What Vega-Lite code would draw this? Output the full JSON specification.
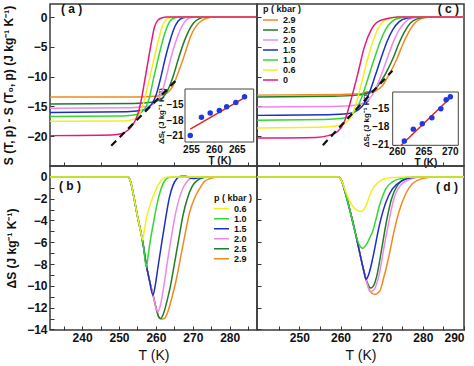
{
"$schema":"https://vega.github.io/schema/vega-lite/v6.json",
"padding":{"left":1,"top":2,"right":0,"bottom":0},
"background":"white",
"config":{
 "font":"Liberation Sans",
 "view":{"stroke":"#3a3a3a","strokeWidth":1.5},
 "axis":{"grid":false,"domain":false,"labelFont":"Liberation Sans","labelFontWeight":"bold","labelFontSize":12,"labelColor":"#111","titleFont":"Liberation Sans","titleColor":"#111","titleFontWeight":"bold","tickColor":"#333","tickSize":-4,"labelPadding":7},
 "legend":{"titleFontSize":9,"titleFontWeight":"bold","labelFontSize":9,"labelFontWeight":"bold","titleColor":"#111","labelColor":"#111","symbolStrokeWidth":1.5,"rowPadding":0,"titlePadding":1,"padding":0},
 "title":{"font":"Liberation Sans","fontSize":12,"fontWeight":"bold","color":"#111"}
},
"datasets":{
 "a":[
  {"p":"2.9","T":231.3,"v":-13.4},{"p":"2.9","T":255,"v":-13.4},{"p":"2.9","T":260,"v":-13.3},{"p":"2.9","T":262,"v":-13.0},{"p":"2.9","T":263.5,"v":-12.5},{"p":"2.9","T":264.6,"v":-11.6},{"p":"2.9","T":266,"v":-9.4},{"p":"2.9","T":267.4,"v":-7},{"p":"2.9","T":268.5,"v":-4.9},{"p":"2.9","T":269.5,"v":-3.1},{"p":"2.9","T":270.8,"v":-1.6},{"p":"2.9","T":272.2,"v":-0.7},{"p":"2.9","T":273.8,"v":-0.2},{"p":"2.9","T":276,"v":0},{"p":"2.9","T":287.4,"v":0},
  {"p":"2.5","T":231.3,"v":-14.6},{"p":"2.5","T":254,"v":-14.5},{"p":"2.5","T":259,"v":-14.3},{"p":"2.5","T":261,"v":-13.9},{"p":"2.5","T":262.4,"v":-13.1},{"p":"2.5","T":263.7,"v":-11.6},{"p":"2.5","T":264.9,"v":-9.5},{"p":"2.5","T":266.1,"v":-7},{"p":"2.5","T":267.6,"v":-4.2},{"p":"2.5","T":268.9,"v":-2.3},{"p":"2.5","T":270.2,"v":-1.0},{"p":"2.5","T":271.6,"v":-0.3},{"p":"2.5","T":273.5,"v":0},{"p":"2.5","T":287.4,"v":0},
  {"p":"2.0","T":231.3,"v":-15.3},{"p":"2.0","T":253,"v":-15.2},{"p":"2.0","T":257.5,"v":-15.0},{"p":"2.0","T":259.3,"v":-14.6},{"p":"2.0","T":260.6,"v":-13.8},{"p":"2.0","T":261.8,"v":-12.3},{"p":"2.0","T":262.9,"v":-9.8},{"p":"2.0","T":264,"v":-7},{"p":"2.0","T":265.5,"v":-3.9},{"p":"2.0","T":266.7,"v":-2.0},{"p":"2.0","T":267.8,"v":-0.8},{"p":"2.0","T":269,"v":-0.2},{"p":"2.0","T":271,"v":0},{"p":"2.0","T":287.4,"v":0},
  {"p":"1.5","T":231.3,"v":-16.0},{"p":"1.5","T":252,"v":-15.9},{"p":"1.5","T":256,"v":-15.7},{"p":"1.5","T":257.8,"v":-15.3},{"p":"1.5","T":259,"v":-14.5},{"p":"1.5","T":260.1,"v":-13.0},{"p":"1.5","T":261.3,"v":-10.2},{"p":"1.5","T":262.5,"v":-7},{"p":"1.5","T":263.9,"v":-3.8},{"p":"1.5","T":265,"v":-1.8},{"p":"1.5","T":266,"v":-0.7},{"p":"1.5","T":267.2,"v":-0.15},{"p":"1.5","T":269,"v":0},{"p":"1.5","T":287.4,"v":0},
  {"p":"1.0","T":231.3,"v":-16.7},{"p":"1.0","T":251,"v":-16.6},{"p":"1.0","T":254.5,"v":-16.4},{"p":"1.0","T":256,"v":-16.0},{"p":"1.0","T":257.2,"v":-15.2},{"p":"1.0","T":258.2,"v":-13.6},{"p":"1.0","T":259.4,"v":-10.2},{"p":"1.0","T":260.6,"v":-7},{"p":"1.0","T":262,"v":-3.6},{"p":"1.0","T":263,"v":-1.7},{"p":"1.0","T":263.9,"v":-0.6},{"p":"1.0","T":265,"v":-0.15},{"p":"1.0","T":266.5,"v":0},{"p":"1.0","T":287.4,"v":0},
  {"p":"0.6","T":231.3,"v":-17.5},{"p":"0.6","T":250,"v":-17.45},{"p":"0.6","T":253,"v":-17.3},{"p":"0.6","T":254.5,"v":-17.0},{"p":"0.6","T":255.5,"v":-16.3},{"p":"0.6","T":256.5,"v":-14.8},{"p":"0.6","T":258,"v":-11},{"p":"0.6","T":259.5,"v":-7},{"p":"0.6","T":260.8,"v":-3.6},{"p":"0.6","T":261.7,"v":-1.6},{"p":"0.6","T":262.5,"v":-0.6},{"p":"0.6","T":263.5,"v":-0.15},{"p":"0.6","T":265,"v":0},{"p":"0.6","T":287.4,"v":0},
  {"p":"0","T":231.3,"v":-19.9},{"p":"0","T":248,"v":-19.8},{"p":"0","T":250.6,"v":-19.6},{"p":"0","T":252.4,"v":-19.0},{"p":"0","T":253.3,"v":-18.4},{"p":"0","T":254.2,"v":-17.6},{"p":"0","T":255.1,"v":-16.3},{"p":"0","T":256.0,"v":-14.0},{"p":"0","T":257.3,"v":-9.5},{"p":"0","T":258.7,"v":-4.5},{"p":"0","T":259.6,"v":-1.7},{"p":"0","T":260.5,"v":-0.55},{"p":"0","T":261.5,"v":-0.15},{"p":"0","T":263,"v":0},{"p":"0","T":287.4,"v":0}
 ],
 "c":[
  {"p":"2.9","T":239.7,"v":-13.1},{"p":"2.9","T":260,"v":-13.0},{"p":"2.9","T":266,"v":-12.8},{"p":"2.9","T":268.5,"v":-12.4},{"p":"2.9","T":270.2,"v":-11.5},{"p":"2.9","T":271.5,"v":-10.0},{"p":"2.9","T":272.6,"v":-8.6},{"p":"2.9","T":273.7,"v":-7},{"p":"2.9","T":275.1,"v":-4.6},{"p":"2.9","T":276.5,"v":-2.6},{"p":"2.9","T":277.9,"v":-1.1},{"p":"2.9","T":279.5,"v":-0.3},{"p":"2.9","T":282,"v":0},{"p":"2.9","T":290,"v":0},
  {"p":"2.5","T":239.7,"v":-13.4},{"p":"2.5","T":258,"v":-13.3},{"p":"2.5","T":264,"v":-13.1},{"p":"2.5","T":266.8,"v":-12.7},{"p":"2.5","T":268.5,"v":-12.0},{"p":"2.5","T":270,"v":-10.6},{"p":"2.5","T":271.4,"v":-8.9},{"p":"2.5","T":272.7,"v":-7},{"p":"2.5","T":274.2,"v":-4.4},{"p":"2.5","T":275.6,"v":-2.4},{"p":"2.5","T":277,"v":-1.0},{"p":"2.5","T":278.6,"v":-0.3},{"p":"2.5","T":281,"v":0},{"p":"2.5","T":290,"v":0},
  {"p":"2.0","T":239.7,"v":-15.1},{"p":"2.0","T":258,"v":-15.0},{"p":"2.0","T":263.5,"v":-14.8},{"p":"2.0","T":266,"v":-14.3},{"p":"2.0","T":267.5,"v":-13.3},{"p":"2.0","T":268.8,"v":-11.6},{"p":"2.0","T":270,"v":-9.5},{"p":"2.0","T":271.3,"v":-7},{"p":"2.0","T":272.8,"v":-4.2},{"p":"2.0","T":274.2,"v":-2.2},{"p":"2.0","T":275.6,"v":-0.9},{"p":"2.0","T":277.3,"v":-0.2},{"p":"2.0","T":280,"v":0},{"p":"2.0","T":290,"v":0},
  {"p":"1.5","T":239.7,"v":-16.5},{"p":"1.5","T":257,"v":-16.4},{"p":"1.5","T":262,"v":-16.2},{"p":"1.5","T":264.3,"v":-15.6},{"p":"1.5","T":265.8,"v":-14.5},{"p":"1.5","T":267.1,"v":-12.5},{"p":"1.5","T":268.4,"v":-9.9},{"p":"1.5","T":269.8,"v":-7},{"p":"1.5","T":271.3,"v":-4.1},{"p":"1.5","T":272.7,"v":-2.1},{"p":"1.5","T":274.2,"v":-0.8},{"p":"1.5","T":276,"v":-0.2},{"p":"1.5","T":279,"v":0},{"p":"1.5","T":290,"v":0},
  {"p":"1.0","T":239.7,"v":-17.3},{"p":"1.0","T":256,"v":-17.2},{"p":"1.0","T":260.5,"v":-17.0},{"p":"1.0","T":262.5,"v":-16.5},{"p":"1.0","T":264,"v":-15.3},{"p":"1.0","T":265.4,"v":-13.0},{"p":"1.0","T":266.8,"v":-10.0},{"p":"1.0","T":268.2,"v":-7},{"p":"1.0","T":269.7,"v":-4.0},{"p":"1.0","T":271,"v":-2.0},{"p":"1.0","T":272.4,"v":-0.8},{"p":"1.0","T":274,"v":-0.2},{"p":"1.0","T":277,"v":0},{"p":"1.0","T":290,"v":0},
  {"p":"0.6","T":239.7,"v":-18.6},{"p":"0.6","T":255,"v":-18.5},{"p":"0.6","T":259,"v":-18.3},{"p":"0.6","T":261,"v":-17.9},{"p":"0.6","T":262.5,"v":-16.8},{"p":"0.6","T":263.8,"v":-14.5},{"p":"0.6","T":265.2,"v":-10.8},{"p":"0.6","T":266.6,"v":-7},{"p":"0.6","T":268,"v":-3.8},{"p":"0.6","T":269.2,"v":-1.8},{"p":"0.6","T":270.5,"v":-0.7},{"p":"0.6","T":272.2,"v":-0.2},{"p":"0.6","T":275,"v":0},{"p":"0.6","T":290,"v":0},
  {"p":"0","T":239.7,"v":-20.3},{"p":"0","T":254,"v":-20.2},{"p":"0","T":257,"v":-19.9},{"p":"0","T":259.3,"v":-19.2},{"p":"0","T":260.9,"v":-17.6},{"p":"0","T":262.5,"v":-14.0},{"p":"0","T":264.2,"v":-9.5},{"p":"0","T":265.8,"v":-5.0},{"p":"0","T":267.4,"v":-2.2},{"p":"0","T":269,"v":-0.8},{"p":"0","T":271.4,"v":-0.25},{"p":"0","T":274,"v":0},{"p":"0","T":290,"v":0}
 ],
 "b":[
  {"p":"2.9","T":231.3,"v":0},{"p":"2.9","T":252.5,"v":0},{"p":"2.9","T":253.2,"v":-0.5},{"p":"2.9","T":254,"v":-1.8},{"p":"2.9","T":255,"v":-3.6},{"p":"2.9","T":256,"v":-5.2},{"p":"2.9","T":256.6,"v":-6.3},{"p":"2.9","T":257.3,"v":-7.9},{"p":"2.9","T":258.2,"v":-9.4},{"p":"2.9","T":259.2,"v":-10.8},{"p":"2.9","T":260.1,"v":-12.1},{"p":"2.9","T":260.7,"v":-12.8},{"p":"2.9","T":261.4,"v":-13.05},{"p":"2.9","T":262.3,"v":-13.0},{"p":"2.9","T":263.3,"v":-12.3},{"p":"2.9","T":264.4,"v":-11.0},{"p":"2.9","T":265.6,"v":-9.3},{"p":"2.9","T":266.8,"v":-7.2},{"p":"2.9","T":268,"v":-5.1},{"p":"2.9","T":269.1,"v":-3.3},{"p":"2.9","T":270.4,"v":-2.0},{"p":"2.9","T":271.8,"v":-1.1},{"p":"2.9","T":273.1,"v":-0.45},{"p":"2.9","T":274.7,"v":-0.15},{"p":"2.9","T":277,"v":0},{"p":"2.9","T":287.4,"v":0},
  {"p":"2.5","T":231.3,"v":0},{"p":"2.5","T":252.5,"v":0},{"p":"2.5","T":253.2,"v":-0.5},{"p":"2.5","T":254,"v":-1.8},{"p":"2.5","T":255,"v":-3.6},{"p":"2.5","T":256,"v":-5.2},{"p":"2.5","T":256.6,"v":-6.3},{"p":"2.5","T":257.3,"v":-7.9},{"p":"2.5","T":258.2,"v":-9.4},{"p":"2.5","T":259.2,"v":-10.8},{"p":"2.5","T":260.1,"v":-12.1},{"p":"2.5","T":260.7,"v":-12.8},{"p":"2.5","T":261.3,"v":-13.0},{"p":"2.5","T":262,"v":-12.6},{"p":"2.5","T":263,"v":-11.4},{"p":"2.5","T":264,"v":-9.9},{"p":"2.5","T":265,"v":-8.0},{"p":"2.5","T":266.2,"v":-5.7},{"p":"2.5","T":267.3,"v":-3.6},{"p":"2.5","T":268.5,"v":-2.0},{"p":"2.5","T":269.8,"v":-0.9},{"p":"2.5","T":271.3,"v":-0.3},{"p":"2.5","T":273,"v":-0.05},{"p":"2.5","T":275,"v":0},{"p":"2.5","T":287.4,"v":0},
  {"p":"2.0","T":231.3,"v":0},{"p":"2.0","T":252.5,"v":0},{"p":"2.0","T":253.2,"v":-0.5},{"p":"2.0","T":254,"v":-1.8},{"p":"2.0","T":255,"v":-3.6},{"p":"2.0","T":256,"v":-5.2},{"p":"2.0","T":256.6,"v":-6.3},{"p":"2.0","T":257.3,"v":-7.9},{"p":"2.0","T":258.2,"v":-9.4},{"p":"2.0","T":259.2,"v":-10.8},{"p":"2.0","T":260.1,"v":-12.1},{"p":"2.0","T":260.5,"v":-12.4},{"p":"2.0","T":261.2,"v":-11.8},{"p":"2.0","T":262.2,"v":-9.9},{"p":"2.0","T":263.2,"v":-7.6},{"p":"2.0","T":264.3,"v":-5.3},{"p":"2.0","T":265.3,"v":-3.4},{"p":"2.0","T":266.4,"v":-1.9},{"p":"2.0","T":267.5,"v":-0.9},{"p":"2.0","T":268.6,"v":-0.35},{"p":"2.0","T":270,"v":-0.05},{"p":"2.0","T":272,"v":0},{"p":"2.0","T":287.4,"v":0},
  {"p":"1.5","T":231.3,"v":0},{"p":"1.5","T":252.5,"v":0},{"p":"1.5","T":253.2,"v":-0.5},{"p":"1.5","T":254,"v":-1.8},{"p":"1.5","T":255,"v":-3.6},{"p":"1.5","T":256,"v":-5.2},{"p":"1.5","T":256.6,"v":-6.3},{"p":"1.5","T":257.3,"v":-7.9},{"p":"1.5","T":258.2,"v":-9.4},{"p":"1.5","T":259.2,"v":-10.85},{"p":"1.5","T":259.8,"v":-10.0},{"p":"1.5","T":260.6,"v":-8.2},{"p":"1.5","T":261.6,"v":-6.0},{"p":"1.5","T":262.6,"v":-3.9},{"p":"1.5","T":263.6,"v":-2.0},{"p":"1.5","T":264.6,"v":-0.8},{"p":"1.5","T":265.6,"v":-0.2},{"p":"1.5","T":266.8,"v":0.05},{"p":"1.5","T":268,"v":0.05},{"p":"1.5","T":270,"v":-0.15},{"p":"1.5","T":272,"v":-0.05},{"p":"1.5","T":274,"v":0},{"p":"1.5","T":287.4,"v":0},
  {"p":"1.0","T":231.3,"v":0},{"p":"1.0","T":252.5,"v":0},{"p":"1.0","T":253.2,"v":-0.5},{"p":"1.0","T":254,"v":-1.8},{"p":"1.0","T":255,"v":-3.6},{"p":"1.0","T":256,"v":-5.2},{"p":"1.0","T":256.6,"v":-6.3},{"p":"1.0","T":257.4,"v":-8.3},{"p":"1.0","T":257.9,"v":-7.2},{"p":"1.0","T":258.5,"v":-5.8},{"p":"1.0","T":259.3,"v":-4.3},{"p":"1.0","T":260.3,"v":-2.5},{"p":"1.0","T":261.3,"v":-1.2},{"p":"1.0","T":262.3,"v":-0.4},{"p":"1.0","T":263.5,"v":-0.05},{"p":"1.0","T":265,"v":0},{"p":"1.0","T":287.4,"v":0},
  {"p":"0.6","T":231.3,"v":0},{"p":"0.6","T":252.5,"v":0},{"p":"0.6","T":253.2,"v":-0.5},{"p":"0.6","T":254,"v":-1.8},{"p":"0.6","T":255,"v":-3.6},{"p":"0.6","T":256,"v":-5.2},{"p":"0.6","T":256.4,"v":-5.8},{"p":"0.6","T":256.9,"v":-4.8},{"p":"0.6","T":257.5,"v":-3.7},{"p":"0.6","T":258.5,"v":-2.5},{"p":"0.6","T":259.5,"v":-1.6},{"p":"0.6","T":260.5,"v":-0.8},{"p":"0.6","T":261.5,"v":-0.3},{"p":"0.6","T":263,"v":0},{"p":"0.6","T":287.4,"v":0}
 ],
 "d":[
  {"p":"2.9","T":239.7,"v":0},{"p":"2.9","T":259.6,"v":0},{"p":"2.9","T":260.3,"v":-0.4},{"p":"2.9","T":261.2,"v":-1.5},{"p":"2.9","T":262.5,"v":-3.4},{"p":"2.9","T":263.7,"v":-5.3},{"p":"2.9","T":264.8,"v":-7.2},{"p":"2.9","T":265.7,"v":-8.7},{"p":"2.9","T":266.4,"v":-9.7},{"p":"2.9","T":267.2,"v":-10.5},{"p":"2.9","T":268.3,"v":-10.8},{"p":"2.9","T":269.5,"v":-10.5},{"p":"2.9","T":270.6,"v":-9.1},{"p":"2.9","T":271.8,"v":-7.2},{"p":"2.9","T":273,"v":-5.0},{"p":"2.9","T":274.2,"v":-3.2},{"p":"2.9","T":275.9,"v":-1.5},{"p":"2.9","T":277.5,"v":-0.6},{"p":"2.9","T":279.9,"v":-0.15},{"p":"2.9","T":282.5,"v":0},{"p":"2.9","T":290,"v":0},
  {"p":"2.5","T":239.7,"v":0},{"p":"2.5","T":259.6,"v":0},{"p":"2.5","T":260.3,"v":-0.4},{"p":"2.5","T":261.2,"v":-1.5},{"p":"2.5","T":262.5,"v":-3.4},{"p":"2.5","T":263.7,"v":-5.3},{"p":"2.5","T":264.8,"v":-7.2},{"p":"2.5","T":265.7,"v":-8.7},{"p":"2.5","T":266.5,"v":-9.7},{"p":"2.5","T":267.3,"v":-10.2},{"p":"2.5","T":268,"v":-10.0},{"p":"2.5","T":268.8,"v":-9.1},{"p":"2.5","T":270,"v":-6.6},{"p":"2.5","T":271.2,"v":-4.0},{"p":"2.5","T":272.4,"v":-2.0},{"p":"2.5","T":273.8,"v":-0.8},{"p":"2.5","T":276,"v":-0.15},{"p":"2.5","T":278.5,"v":0},{"p":"2.5","T":290,"v":0},
  {"p":"2.0","T":239.7,"v":0},{"p":"2.0","T":259.6,"v":0},{"p":"2.0","T":260.3,"v":-0.4},{"p":"2.0","T":261.2,"v":-1.5},{"p":"2.0","T":262.5,"v":-3.4},{"p":"2.0","T":263.7,"v":-5.3},{"p":"2.0","T":264.8,"v":-7.2},{"p":"2.0","T":265.7,"v":-8.7},{"p":"2.0","T":266.4,"v":-9.7},{"p":"2.0","T":267.2,"v":-10.55},{"p":"2.0","T":268,"v":-10.4},{"p":"2.0","T":269.3,"v":-9.1},{"p":"2.0","T":270.5,"v":-6.6},{"p":"2.0","T":271.7,"v":-4.2},{"p":"2.0","T":272.9,"v":-2.1},{"p":"2.0","T":274.5,"v":-0.8},{"p":"2.0","T":277,"v":-0.2},{"p":"2.0","T":279.5,"v":0},{"p":"2.0","T":290,"v":0},
  {"p":"1.5","T":239.7,"v":0},{"p":"1.5","T":259.6,"v":0},{"p":"1.5","T":260.3,"v":-0.4},{"p":"1.5","T":261.2,"v":-1.5},{"p":"1.5","T":262.5,"v":-3.4},{"p":"1.5","T":263.7,"v":-5.3},{"p":"1.5","T":264.8,"v":-7.2},{"p":"1.5","T":265.7,"v":-8.7},{"p":"1.5","T":266.2,"v":-9.4},{"p":"1.5","T":266.8,"v":-9.0},{"p":"1.5","T":267.8,"v":-7.5},{"p":"1.5","T":268.6,"v":-6.0},{"p":"1.5","T":269.4,"v":-4.5},{"p":"1.5","T":270.2,"v":-3.3},{"p":"1.5","T":271,"v":-2.35},{"p":"1.5","T":272.6,"v":-1.1},{"p":"1.5","T":275,"v":-0.35},{"p":"1.5","T":277.4,"v":-0.05},{"p":"1.5","T":280,"v":0},{"p":"1.5","T":290,"v":0},
  {"p":"1.0","T":239.7,"v":0},{"p":"1.0","T":259.6,"v":0},{"p":"1.0","T":260.3,"v":-0.4},{"p":"1.0","T":261.2,"v":-1.5},{"p":"1.0","T":262.5,"v":-3.4},{"p":"1.0","T":263.7,"v":-5.3},{"p":"1.0","T":264.5,"v":-6.2},{"p":"1.0","T":265.4,"v":-6.55},{"p":"1.0","T":266.3,"v":-6.2},{"p":"1.0","T":267.2,"v":-5.5},{"p":"1.0","T":267.8,"v":-5.0},{"p":"1.0","T":268.6,"v":-3.9},{"p":"1.0","T":269.4,"v":-2.7},{"p":"1.0","T":270.2,"v":-1.8},{"p":"1.0","T":271,"v":-1.1},{"p":"1.0","T":272.6,"v":-0.45},{"p":"1.0","T":275,"v":-0.12},{"p":"1.0","T":277.4,"v":0},{"p":"1.0","T":290,"v":0},
  {"p":"0.6","T":239.7,"v":0},{"p":"0.6","T":259.6,"v":0},{"p":"0.6","T":260.3,"v":-0.4},{"p":"0.6","T":261.2,"v":-1.3},{"p":"0.6","T":262.2,"v":-2.2},{"p":"0.6","T":263.2,"v":-2.8},{"p":"0.6","T":264.2,"v":-3.1},{"p":"0.6","T":265.2,"v":-3.15},{"p":"0.6","T":266,"v":-2.8},{"p":"0.6","T":266.8,"v":-2.0},{"p":"0.6","T":267.8,"v":-1.1},{"p":"0.6","T":269,"v":-0.55},{"p":"0.6","T":270.5,"v":-0.2},{"p":"0.6","T":272.6,"v":-0.05},{"p":"0.6","T":276,"v":0},{"p":"0.6","T":290,"v":0}
 ],
 "dashA":[{"T":247.9,"v":-21.6},{"T":265.5,"v":-10.6}],
 "dashC":[{"T":255.7,"v":-21.5},{"T":272.6,"v":-9.0}],
 "insA":[{"T":254.85,"v":-20.9},{"T":257.3,"v":-17.4},{"T":259.2,"v":-16.6},{"T":261.2,"v":-16.1},{"T":262.8,"v":-15.4},{"T":264.8,"v":-14.6},{"T":266.7,"v":-13.5}],
 "fitA":[{"T":254.85,"v":-19.7},{"T":267.0,"v":-13.5}],
 "insC":[{"T":261.4,"v":-20.4},{"T":263.1,"v":-18.4},{"T":264.8,"v":-17.5},{"T":266.6,"v":-16.5},{"T":268.3,"v":-15.0},{"T":269.3,"v":-13.5},{"T":270.1,"v":-13.0}],
 "fitC":[{"T":260.8,"v":-21.1},{"T":270.4,"v":-12.9}]
},
"concat":[
 {
  "width":207,"height":162,
  "title":{"text":"( a )","anchor":"start","dx":11,"offset":-12,"frame":"group"},
  "layer":[
   {"layer":[
     {"data":{"name":"a"},"mark":{"type":"line","interpolate":"monotone","strokeWidth":1.5},
      "encoding":{
       "x":{"field":"T","type":"quantitative","scale":{"domain":[231.3,287.4],"nice":false,"zero":false},"axis":{"orient":"bottom","title":null,"labels":false,"values":[235,240,245,250,255,260,265,270,275,280,285]}},
       "y":{"field":"v","type":"quantitative","scale":{"domain":[-25,2.2],"nice":false,"zero":false},"axis":{"orient":"left","title":"S (T, p) - S (T₀, p) (J kg⁻¹ K⁻¹)","titleFontSize":12,"titlePadding":5,"minExtent":30,"maxExtent":30,"values":[-20,-15,-10,-5,0]}},
       "color":{"field":"p","type":"nominal","scale":{"domain":["0","0.6","1.0","1.5","2.0","2.5","2.9"],"range":["#e6197d","#f3ee1f","#33d633","#1c2fc2","#ee88ee","#1f7d28","#ef8a1f"]},"legend":null}
      }},
     {"data":{"name":"dashA"},"mark":{"type":"line","color":"#111","strokeDash":[7,5],"strokeWidth":2.2},
      "encoding":{"x":{"field":"T","type":"quantitative"},"y":{"field":"v","type":"quantitative"}}}
   ]},
   {"layer":[
     {"data":{"values":[{}]},"mark":{"type":"rect","fill":"white","stroke":"#444","strokeWidth":1},
      "encoding":{
       "x":{"datum":253.7,"type":"quantitative","scale":{"domain":[253.7,268.7],"range":[135,203.7],"nice":false,"zero":false},"axis":{"orient":"bottom","offset":-24,"values":[255,260,265],"title":"T (K)","labelFontSize":10,"titleFontSize":10,"tickSize":-3,"labelPadding":5,"titlePadding":1}},
       "x2":{"datum":268.7},
       "y":{"datum":-22.15,"type":"quantitative","scale":{"domain":[-22.15,-12.0],"range":[138,85],"nice":false,"zero":false},"axis":{"orient":"left","offset":-135,"values":[-21,-18,-15],"title":"ΔSₜ (J kg⁻¹ K⁻¹)","labelFontSize":10,"titleFontSize":8,"tickSize":-3,"labelPadding":5,"titlePadding":1}},
       "y2":{"datum":-12.0}
      }},
     {"data":{"name":"fitA"},"mark":{"type":"line","color":"#e3231c","strokeWidth":1.5},
      "encoding":{"x":{"field":"T","type":"quantitative"},"y":{"field":"v","type":"quantitative"}}},
     {"data":{"name":"insA"},"mark":{"type":"point","filled":true,"color":"#2038e0","size":30,"opacity":1},
      "encoding":{"x":{"field":"T","type":"quantitative"},"y":{"field":"v","type":"quantitative"}}}
   ]}
  ],
  "resolve":{"scale":{"x":"independent","y":"independent"}}
 },
 {
  "width":207,"height":162,
  "title":{"text":"( c )","anchor":"end","dx":-5,"offset":-12,"frame":"group"},
  "layer":[
   {"layer":[
     {"data":{"name":"c"},"mark":{"type":"line","interpolate":"monotone","strokeWidth":1.5},
      "encoding":{
       "x":{"field":"T","type":"quantitative","scale":{"domain":[239.7,290],"nice":false,"zero":false},"axis":{"orient":"bottom","title":null,"labels":false,"values":[245,250,255,260,265,270,275,280,285]}},
       "y":{"field":"v","type":"quantitative","scale":{"domain":[-25,2.2],"nice":false,"zero":false},"axis":{"orient":"left","title":null,"labels":false,"values":[-20,-15,-10,-5,0]}},
       "color":{"field":"p","type":"nominal","scale":{"domain":["2.9","2.5","2.0","1.5","1.0","0.6","0"],"range":["#ef8a1f","#1f7d28","#ee88ee","#1c2fc2","#33d633","#f3ee1f","#e6197d"]},
        "legend":{"title":"p ( kbar )","orient":"none","legendX":6,"legendY":1,"symbolType":"M-1.8,0H1.8","symbolSize":100,"labelOffset":8,"clipHeight":10,"rowPadding":0}}
      }},
     {"data":{"name":"dashC"},"mark":{"type":"line","color":"#111","strokeDash":[7,5],"strokeWidth":2.2},
      "encoding":{"x":{"field":"T","type":"quantitative"},"y":{"field":"v","type":"quantitative"}}}
   ]},
   {"layer":[
     {"data":{"values":[{}]},"mark":{"type":"rect","fill":"white","stroke":"#444","strokeWidth":1},
      "encoding":{
       "x":{"datum":259.2,"type":"quantitative","scale":{"domain":[259.2,271.6],"range":[135.7,201.3],"nice":false,"zero":false},"axis":{"orient":"bottom","offset":-20.7,"values":[260,265,270],"title":"T (K)","labelFontSize":10,"titleFontSize":10,"tickSize":-3,"labelPadding":4,"titlePadding":1}},
       "x2":{"datum":271.6},
       "y":{"datum":-21.1,"type":"quantitative","scale":{"domain":[-21.1,-12.2],"range":[141.3,88],"nice":false,"zero":false},"axis":{"orient":"left","offset":-135.7,"values":[-21,-18,-15],"title":"ΔSₜ (J kg⁻¹ K⁻¹)","labelFontSize":10,"titleFontSize":8,"tickSize":-3,"labelPadding":7,"titlePadding":1}},
       "y2":{"datum":-12.2}
      }},
     {"data":{"name":"fitC"},"mark":{"type":"line","color":"#e3231c","strokeWidth":1.5},
      "encoding":{"x":{"field":"T","type":"quantitative"},"y":{"field":"v","type":"quantitative"}}},
     {"data":{"name":"insC"},"mark":{"type":"point","filled":true,"color":"#2038e0","size":30,"opacity":1},
      "encoding":{"x":{"field":"T","type":"quantitative"},"y":{"field":"v","type":"quantitative"}}}
   ]}
  ],
  "resolve":{"scale":{"x":"independent","y":"independent"}}
 },
 {
  "width":207,"height":164,
  "title":{"text":"( b )","anchor":"start","dx":9,"offset":-27,"frame":"group"},
  "data":{"name":"b"},
  "mark":{"type":"line","interpolate":"monotone","strokeWidth":1.5},
  "encoding":{
   "x":{"field":"T","type":"quantitative","scale":{"domain":[231.3,287.4],"nice":false,"zero":false},"axis":{"orient":"bottom","title":"T (K)","titleFontSize":14,"titleFontWeight":"normal","titlePadding":5,"labelPadding":6,"values":[235,240,245,250,255,260,265,270,275,280,285],"labelExpr":"datum.value % 10 == 0 ? datum.label : ''"}},
   "y":{"field":"v","type":"quantitative","scale":{"domain":[-14.05,1.0],"nice":false,"zero":false},"axis":{"orient":"left","title":"ΔS (J kg⁻¹ K⁻¹)","titleFontSize":12,"titlePadding":2,"minExtent":30,"maxExtent":30,"values":[-14,-13,-12,-11,-10,-9,-8,-7,-6,-5,-4,-3,-2,-1,0],"labelExpr":"datum.value % 2 == 0 ? datum.label : ''"}},
   "color":{"field":"p","type":"nominal","scale":{"domain":["0.6","1.0","1.5","2.0","2.5","2.9"],"range":["#f3ee1f","#33d633","#1c2fc2","#ee88ee","#1f7d28","#ef8a1f"]},
    "legend":{"title":"p ( kbar )","orient":"none","legendX":164,"legendY":28,"symbolType":"M-1.8,0H1.8","symbolSize":100,"labelOffset":8,"clipHeight":9.4,"rowPadding":0}}
  }
 },
 {
  "width":207,"height":164,
  "title":{"text":"( d )","anchor":"end","dx":-6,"offset":-28,"frame":"group"},
  "data":{"name":"d"},
  "mark":{"type":"line","interpolate":"monotone","strokeWidth":1.5},
  "encoding":{
   "x":{"field":"T","type":"quantitative","scale":{"domain":[239.7,290],"nice":false,"zero":false},"axis":{"orient":"bottom","title":"T (K)","titleFontSize":14,"titleFontWeight":"normal","titlePadding":5,"labelPadding":6,"values":[245,250,255,260,265,270,275,280,285,290],"labelExpr":"datum.value % 10 == 0 ? datum.label : ''"}},
   "y":{"field":"v","type":"quantitative","scale":{"domain":[-14.05,1.0],"nice":false,"zero":false},"axis":{"orient":"left","title":null,"labels":false,"values":[-14,-12,-10,-8,-6,-4,-2,0]}},
   "color":{"field":"p","type":"nominal","scale":{"domain":["0.6","1.0","1.5","2.0","2.5","2.9"],"range":["#f3ee1f","#33d633","#1c2fc2","#ee88ee","#1f7d28","#ef8a1f"]},"legend":null}
  }
 }
],
"columns":2,
"spacing":0,
"bounds":"flush",
"resolve":{"scale":{"color":"independent"},"legend":{"color":"independent"}}
}
